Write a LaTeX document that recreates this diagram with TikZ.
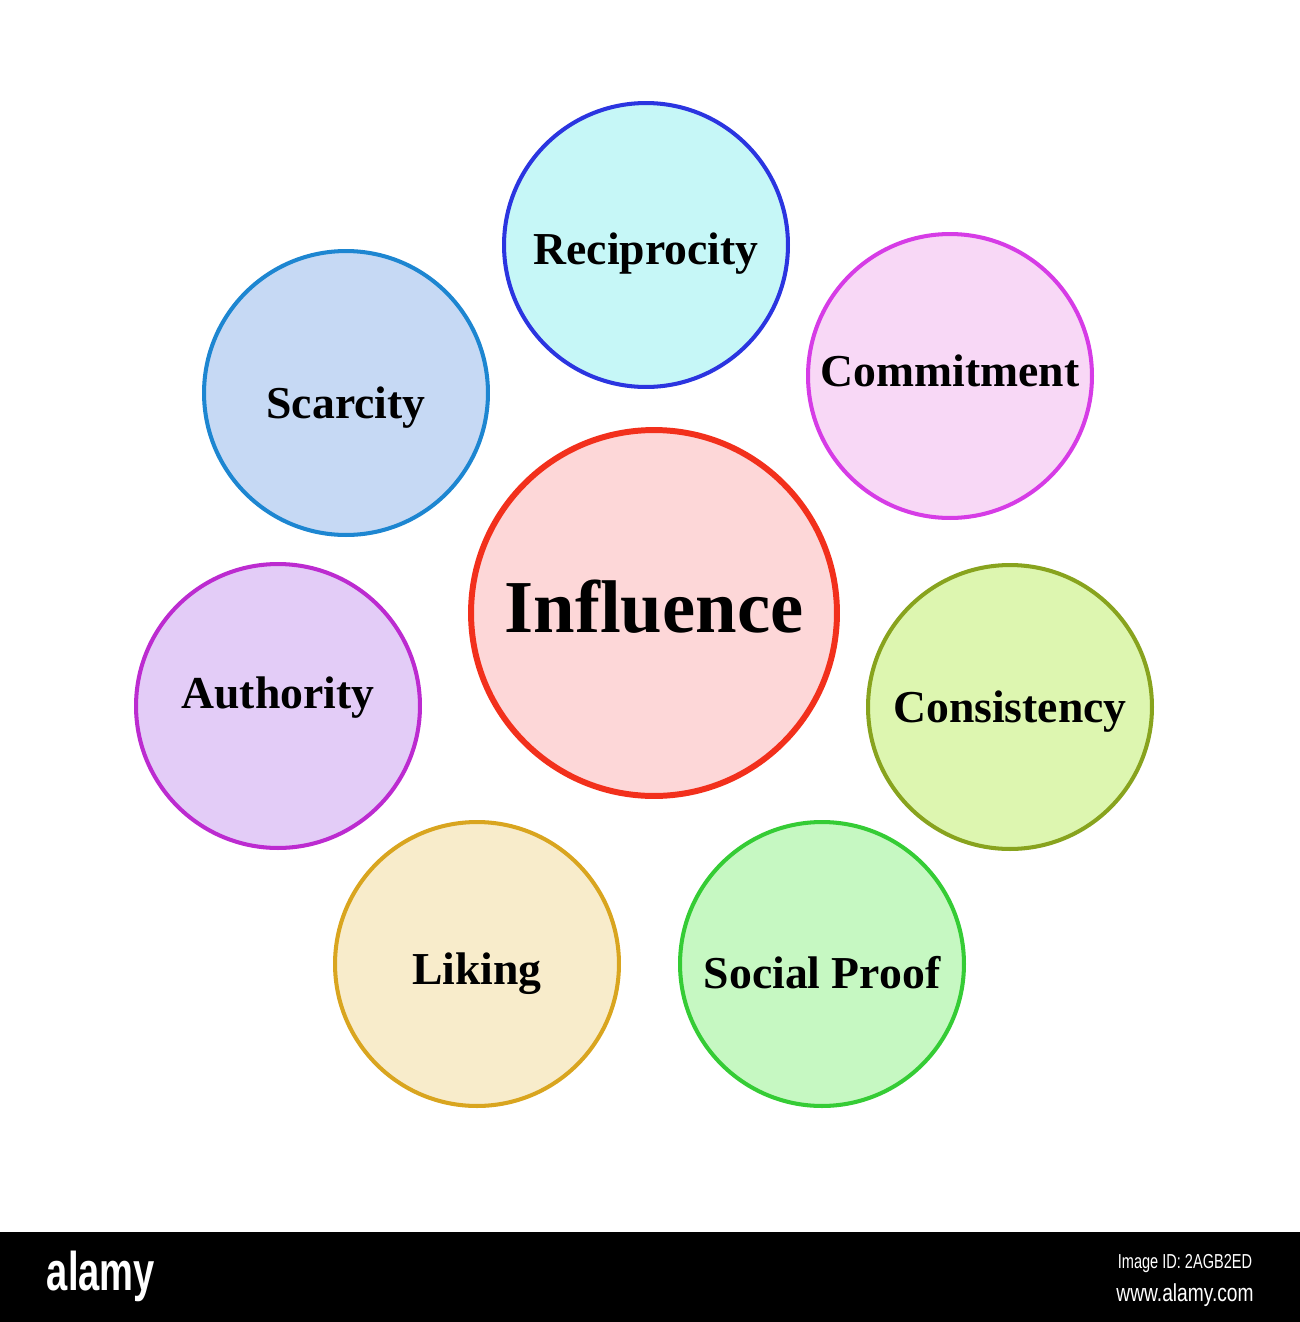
\documentclass[tikz,border=0pt]{standalone}
\usepackage{fontspec}
\setmainfont{Liberation Serif}
\newfontfamily\stampfont{Liberation Sans}
\usepackage{tikz}
\usetikzlibrary{positioning}

\definecolor{inflFill}{HTML}{FDD7D8}
\definecolor{inflLine}{HTML}{F2301C}
\definecolor{recipFill}{HTML}{C6F7F7}
\definecolor{recipLine}{HTML}{2B35E0}
\definecolor{commitFill}{HTML}{F8D8F6}
\definecolor{commitLine}{HTML}{D63CE6}
\definecolor{scarFill}{HTML}{C6D9F4}
\definecolor{scarLine}{HTML}{1D86D1}
\definecolor{authFill}{HTML}{E3CCF7}
\definecolor{authLine}{HTML}{BC2BD0}
\definecolor{consFill}{HTML}{DDF6B0}
\definecolor{consLine}{HTML}{88A31E}
\definecolor{likFill}{HTML}{F8ECCB}
\definecolor{likLine}{HTML}{D9A51F}
\definecolor{socFill}{HTML}{C6F8C2}
\definecolor{socLine}{HTML}{35CC35}

% baseline of a label, measured from the centre of its circle
\newcommand{\seat}[2]{\raisebox{#1}[0pt][0pt]{#2}}

\begin{document}
\begin{tikzpicture}[x=0.02cm,y=-0.02cm,
  font=\bfseries\fontsize{26}{30}\selectfont]
    \tikzstyle{bubble}=[circle, minimum size=5.68cm, inner sep=0pt, line width=2.3pt]
    \tikzstyle{hub}=[circle, minimum size=7.32cm, inner sep=0pt, line width=3.4pt,
      font=\bfseries\fontsize{42.5}{48}\selectfont]

    \useasboundingbox (0,0) rectangle (1300,1322);

    \node[hub, draw=inflLine, fill=inflFill]          (infl)   at (654,613) {\seat{-11.3pt}{Influence}};

    \node[bubble, draw=recipLine, fill=recipFill]     (recip)  at (646,245) {\seat{-11.3pt}{Reciprocity}};
    \node[bubble, draw=commitLine, fill=commitFill]   (commit) at (950,376) {\seat{-6.2pt}{Commitment}};
    \node[bubble, draw=consLine, fill=consFill]       (cons)   at (1010,707) {\seat{-9.1pt}{Consistency}};
    \node[bubble, draw=socLine, fill=socFill]         (soc)    at (822,964) {\seat{-14.2pt}{Social Proof}};
    \node[bubble, draw=likLine, fill=likFill]         (lik)    at (477,964) {\seat{-11.9pt}{Liking}};
    \node[bubble, draw=authLine, fill=authFill]       (auth)   at (278,706) {\seat{-1.7pt}{Authority}};
    \node[bubble, draw=scarLine, fill=scarFill]       (scar)   at (346,393) {\seat{-14.7pt}{Scarcity}};

    % stock bar
    \fill[black] (0,1232) rectangle (1300,1322);
    \node[white, font=\stampfont\bfseries\fontsize{31}{31}\selectfont, xscale=0.7] (logo) at (101,1276) {alamy};
    \node[white, font=\stampfont\fontsize{11.5}{12}\selectfont, xscale=0.72] (imgid) at (1185,1264) {Image ID: 2AGB2ED};
    \node[white, font=\stampfont\fontsize{14}{14}\selectfont, xscale=0.78, below=-1pt of imgid] (site) {www.alamy.com};

\end{tikzpicture}
\end{document}
